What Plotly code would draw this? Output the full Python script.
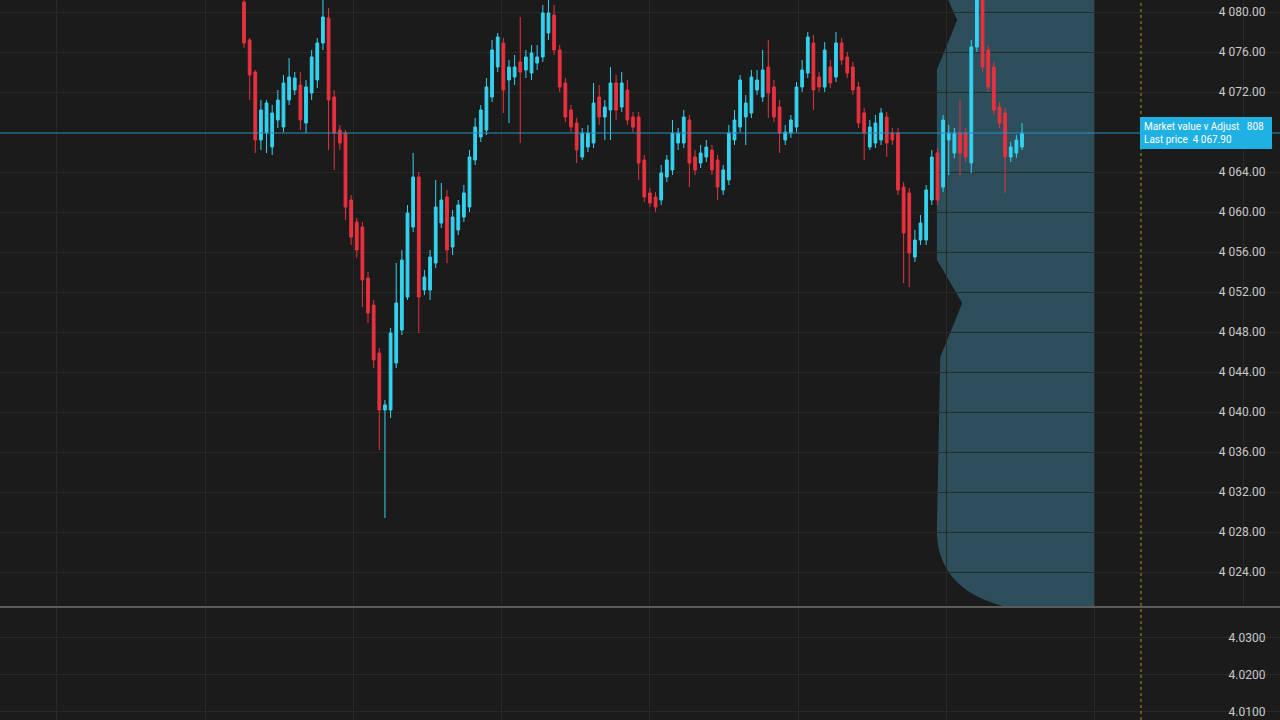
import plotly.graph_objects as go

# ---- data (price values) ----
opens = [4081.0, 4077.2, 4074.0, 4067.2, 4067.9, 4066.5, 4069.2, 4068.5, 4071.2, 4072.2,
         4072.7, 4068.9, 4071.9, 4073.2, 4076.9, 4079.4, 4071.5, 4068.2, 4067.9, 4061.2,
         4059.0, 4058.5, 4053.4, 4050.7, 4045.9, 4040.2, 4040.2, 4044.9, 4048.2, 4051.5,
         4058.5, 4063.5, 4052.2, 4052.2, 4054.9, 4058.9, 4061.5, 4056.5, 4058.2, 4059.5,
         4060.5, 4065.2, 4067.5, 4068.2, 4071.5, 4074.5, 4076.9, 4073.2, 4073.5, 4075.0,
         4074.2, 4073.9, 4074.9, 4075.5, 4077.9, 4079.7, 4076.2, 4072.9, 4070.2, 4068.9,
         4065.5, 4066.5, 4066.9, 4071.5, 4069.5, 4070.2, 4072.9, 4070.5, 4072.2, 4069.5,
         4069.5, 4065.2, 4061.9, 4061.5, 4061.2, 4063.5, 4064.2, 4066.9, 4066.9, 4069.2,
         4065.5, 4064.9, 4065.5, 4066.2, 4065.2, 4062.2, 4063.2, 4067.2, 4068.5, 4069.5,
         4069.9, 4072.2, 4071.5, 4074.5, 4072.5, 4070.5, 4067.2, 4067.9, 4068.5, 4072.5,
         4073.9, 4076.9, 4073.5, 4072.5, 4074.5, 4073.5, 4076.9, 4075.5, 4074.5, 4072.5,
         4069.9, 4066.5, 4066.9, 4067.2, 4069.5, 4067.9, 4067.9, 4062.5, 4061.9, 4055.5,
         4057.2, 4057.2, 4061.2, 4065.9, 4062.5, 4067.2, 4065.9, 4067.9, 4067.9, 4064.9,
         4076.5, 4081.2, 4076.2, 4074.5, 4070.5, 4069.9, 4065.5, 4065.9, 4066.5]
highs = [4083.7, 4077.4, 4074.2, 4071.2, 4071.2, 4070.7, 4072.2, 4073.7, 4075.4, 4074.0,
         4074.0, 4073.2, 4076.2, 4077.4, 4081.2, 4080.4, 4072.2, 4068.7, 4068.2, 4061.7,
         4059.4, 4059.0, 4054.0, 4051.2, 4046.4, 4041.2, 4048.4, 4054.9, 4056.2, 4060.7,
         4065.9, 4064.0, 4054.2, 4056.2, 4063.2, 4062.9, 4062.2, 4060.2, 4061.2, 4062.7,
         4066.2, 4069.4, 4070.7, 4073.4, 4077.2, 4077.9, 4077.4, 4075.2, 4075.7, 4079.5,
         4076.2, 4076.7, 4076.7, 4080.7, 4081.7, 4080.7, 4076.7, 4073.4, 4070.7, 4069.4,
         4068.4, 4068.7, 4072.9, 4072.7, 4071.2, 4074.5, 4073.7, 4074.0, 4073.2, 4070.0,
         4070.0, 4065.7, 4062.4, 4062.0, 4064.7, 4065.7, 4069.2, 4068.4, 4070.2, 4069.7,
         4066.2, 4066.7, 4067.2, 4066.7, 4065.7, 4064.7, 4068.7, 4070.2, 4073.7, 4071.7,
         4074.2, 4074.2, 4076.2, 4077.2, 4073.2, 4071.2, 4068.7, 4069.7, 4073.0, 4075.2,
         4078.0, 4077.7, 4074.0, 4077.0, 4075.2, 4078.0, 4077.4, 4076.0, 4075.0, 4073.0,
         4070.4, 4069.2, 4069.7, 4070.4, 4070.0, 4068.4, 4068.4, 4063.0, 4062.4, 4058.2,
         4059.7, 4062.7, 4066.2, 4066.4, 4069.7, 4068.7, 4068.4, 4071.2, 4068.4, 4077.2,
         4083.2, 4082.2, 4076.7, 4075.0, 4071.0, 4070.4, 4067.0, 4067.7, 4068.9]
lows = [4076.4, 4071.2, 4065.9, 4066.2, 4065.9, 4065.7, 4068.4, 4068.0, 4070.7, 4071.7,
        4068.2, 4067.9, 4071.2, 4072.4, 4076.2, 4066.2, 4064.2, 4066.2, 4059.2, 4056.7,
        4055.4, 4050.5, 4048.9, 4044.4, 4036.2, 4029.4, 4039.4, 4044.4, 4047.7, 4051.2,
        4058.0, 4047.9, 4051.7, 4051.2, 4054.4, 4058.4, 4054.9, 4055.7, 4057.7, 4059.0,
        4060.0, 4064.7, 4067.0, 4067.7, 4071.0, 4074.0, 4069.9, 4068.9, 4072.7, 4066.9,
        4073.4, 4073.2, 4074.2, 4075.0, 4077.2, 4075.7, 4072.0, 4069.0, 4068.0, 4064.9,
        4065.2, 4066.0, 4066.4, 4068.7, 4067.2, 4067.2, 4069.2, 4070.0, 4068.7, 4068.0,
        4063.2, 4061.0, 4060.5, 4060.0, 4060.7, 4063.0, 4063.7, 4066.2, 4066.4, 4062.5,
        4063.7, 4064.4, 4065.0, 4063.7, 4061.2, 4061.7, 4062.7, 4066.7, 4068.0, 4066.7,
        4069.4, 4071.7, 4071.0, 4069.4, 4069.0, 4065.9, 4066.7, 4067.4, 4068.0, 4072.0,
        4073.4, 4070.2, 4072.0, 4072.0, 4072.4, 4073.0, 4074.7, 4073.4, 4071.7, 4068.4,
        4065.2, 4066.2, 4066.4, 4066.7, 4065.5, 4066.7, 4061.7, 4052.9, 4052.5, 4055.0,
        4056.7, 4056.7, 4060.7, 4060.7, 4062.0, 4063.7, 4065.4, 4063.7, 4065.0, 4063.9,
        4076.0, 4074.0, 4072.0, 4069.7, 4068.4, 4061.9, 4065.0, 4065.4, 4066.2]
closes = [4076.9, 4073.7, 4067.2, 4070.2, 4070.9, 4069.9, 4071.2, 4072.9, 4073.5, 4073.4,
          4069.2, 4072.5, 4075.5, 4076.9, 4079.5, 4071.2, 4067.9, 4066.9, 4060.5, 4057.5,
          4056.2, 4053.2, 4049.9, 4045.2, 4040.2, 4040.7, 4047.9, 4050.9, 4055.2, 4059.9,
          4063.5, 4051.5, 4053.5, 4055.5, 4060.5, 4061.2, 4056.2, 4059.5, 4060.7, 4061.9,
          4065.5, 4068.5, 4070.2, 4072.5, 4076.2, 4077.5, 4072.2, 4074.5, 4074.5, 4074.0,
          4075.5, 4075.9, 4075.5, 4079.9, 4079.9, 4076.2, 4072.5, 4069.5, 4068.5, 4066.2,
          4067.9, 4067.9, 4070.9, 4069.5, 4070.5, 4072.9, 4070.2, 4072.9, 4069.2, 4068.5,
          4064.9, 4061.5, 4060.9, 4060.5, 4063.9, 4065.2, 4067.9, 4067.9, 4069.5, 4064.9,
          4064.2, 4065.9, 4066.5, 4064.2, 4062.5, 4064.2, 4067.9, 4069.2, 4073.2, 4070.9,
          4073.5, 4073.2, 4074.2, 4071.9, 4069.5, 4067.9, 4068.0, 4069.2, 4072.5, 4074.2,
          4077.5, 4072.2, 4072.5, 4076.2, 4072.9, 4076.9, 4075.2, 4073.9, 4072.2, 4068.9,
          4067.9, 4068.5, 4068.9, 4069.9, 4066.9, 4067.2, 4062.2, 4057.9, 4055.9, 4057.2,
          4058.9, 4062.2, 4065.5, 4061.2, 4069.2, 4067.9, 4067.9, 4065.9, 4065.5, 4076.5,
          4081.2, 4074.5, 4072.5, 4070.2, 4068.9, 4065.5, 4066.5, 4067.2, 4067.9]
bar_index = list(range(len(closes)))

# 4068 is hidden behind the price label in the reference, so it is not listed
price_ticks = [4024, 4028, 4032, 4036, 4040, 4044, 4048, 4052, 4056, 4060, 4064, 4072, 4076, 4080]
lower_ticks = [4.010, 4.020, 4.030]

zone_start, zone_end = 122.9, 150.8      # highlighted bar range
cutoff_index = 159.1                      # dotted session marker
last_price = closes[-1]

# ---- figure ----
fig = go.Figure()
fig.add_trace(go.Candlestick(
    x=bar_index, open=opens, high=highs, low=lows, close=closes,
    increasing=dict(line=dict(color="#33d3f0", width=1), fillcolor="#33d3f0"),
    decreasing=dict(line=dict(color="#e8313f", width=1), fillcolor="#e8313f"),
    whiskerwidth=0, hoverinfo="skip", yaxis="y",
))
fig.add_trace(go.Scatter(x=[], y=[], yaxis="y2", showlegend=False))

split = 113 / 720
grid = "#292929"
tickfont = dict(family="Roboto, Liberation Sans, sans-serif", size=12, color="#c9c9c9")
fig.update_layout(
    width=1280, height=720,
    margin=dict(l=0, r=0, t=0, b=0),
    paper_bgcolor="#1b1b1b", plot_bgcolor="#1b1b1b",
    showlegend=False, hovermode=False,
    separators=". ",
    font=dict(family="Roboto, Liberation Sans, sans-serif", size=12, color="#c9c9c9"),
    xaxis=dict(range=[-43.28, 183.76], showticklabels=False, showgrid=True,
               gridcolor=grid, gridwidth=1, tick0=-33.2, dtick=26.3,
               zeroline=False, rangeslider=dict(visible=False), anchor="y2"),
    yaxis=dict(domain=[split, 1], range=[4020.5, 4081.2], side="right",
               tickvals=price_ticks, tickformat=",.2f", tickfont=tickfont,
               ticklabelposition="inside", ticklabelstandoff=14,
               showgrid=True, gridcolor=grid, zeroline=False,
               showline=True, linecolor="#4a4a4a", ticks=""),
    yaxis2=dict(domain=[0, split], range=[4.00765, 4.03825], side="right",
                tickvals=lower_ticks, tickformat=".4f", tickfont=tickfont,
                ticklabelposition="inside", ticklabelstandoff=14,
                showgrid=True, gridcolor=grid, zeroline=False,
                showline=True, linecolor="#4a4a4a", ticks=""),
)

# highlighted zone (drawn below the candles)
zone_path = (
    f"M {zone_start+2.0},1 L {zone_start+3.6},0.967 L {zone_start},0.885 "
    f"L {zone_start},0.572 L {zone_start+4.5},0.501 L {zone_start+0.6},0.412 "
    f"L {zone_start},0.127 Q {zone_start},0.028 {zone_start+12.4},0 "
    f"L {zone_end},0 L {zone_end},1 Z"
)
fig.add_shape(type="path", path=zone_path, xref="x", yref="y domain",
              fillcolor="#2f5563", opacity=0.9, line=dict(width=0), layer="below")

# last-price line
fig.add_shape(type="line", xref="paper", x0=0, x1=1, yref="y", y0=last_price, y1=last_price,
              line=dict(color="#2b8fc6", width=1))
# pane separator
fig.add_shape(type="line", xref="paper", x0=0, x1=1, yref="paper", y0=split, y1=split,
              line=dict(color="#5c5c5c", width=2))
# dotted session marker
fig.add_shape(type="line", xref="x", x0=cutoff_index, x1=cutoff_index, yref="paper", y0=0, y1=1,
              line=dict(color="#b8960c", width=1, dash="dot"))

# price label box
fig.add_annotation(
    xref="paper", x=1, xanchor="right", xshift=-8,
    yref="y", y=last_price, yanchor="middle",
    text="Market value v Adjust   808<br>Last price  4 067.90",
    showarrow=False, align="left", width=124,
    bgcolor="#1fb0e4", bordercolor="#1fb0e4", borderpad=3,
    font=dict(color="#ffffff", size=10, family="Roboto, Liberation Sans, sans-serif"),
)

fig.write_html("out.html", config={"displayModeBar": False},
               post_script="document.body.style.margin='0';")
